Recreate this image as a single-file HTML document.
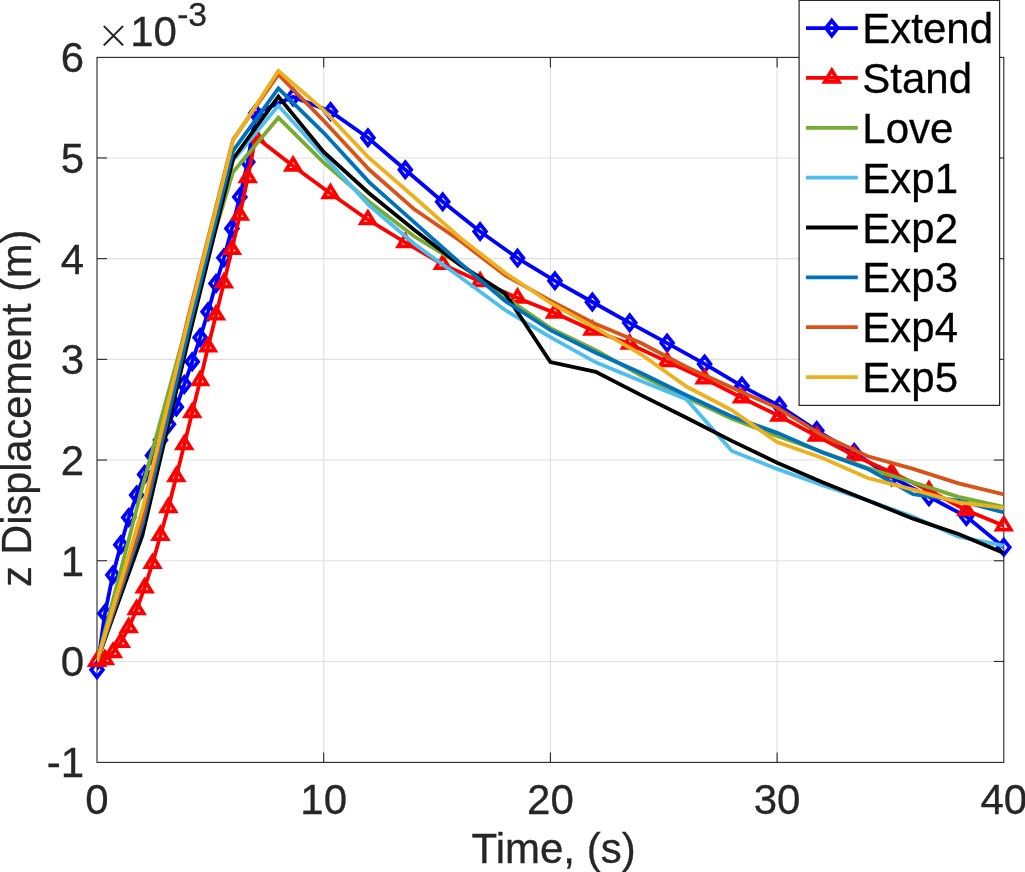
<!DOCTYPE html>
<html lang="en"><head><meta charset="utf-8"><title>z Displacement vs Time</title>
<style>html,body{margin:0;padding:0;background:#fff;}body{width:1025px;height:872px;overflow:hidden;}svg{display:block;}text{font-family:"Liberation Sans", Arial, Helvetica, sans-serif;}</style></head><body>
<svg width="1025" height="872" viewBox="0 0 1025 872">
<rect x="0" y="0" width="1025" height="872" fill="#ffffff"/>
<defs><clipPath id="ax"><rect x="97.00" y="57.40" width="906.80" height="705.00"/></clipPath></defs>
<g stroke="#e0e0e0" stroke-width="1.1" fill="none"><line x1="323.70" y1="57.40" x2="323.70" y2="762.40"/><line x1="550.40" y1="57.40" x2="550.40" y2="762.40"/><line x1="777.10" y1="57.40" x2="777.10" y2="762.40"/><line x1="97.00" y1="661.45" x2="1003.80" y2="661.45"/><line x1="97.00" y1="560.75" x2="1003.80" y2="560.75"/><line x1="97.00" y1="460.05" x2="1003.80" y2="460.05"/><line x1="97.00" y1="359.35" x2="1003.80" y2="359.35"/><line x1="97.00" y1="258.65" x2="1003.80" y2="258.65"/><line x1="97.00" y1="157.95" x2="1003.80" y2="157.95"/></g>
<g stroke="#262626" stroke-width="1.1" fill="none"><rect x="97.00" y="57.40" width="906.80" height="705.00"/><line x1="323.70" y1="762.40" x2="323.70" y2="752.40"/><line x1="323.70" y1="57.40" x2="323.70" y2="67.40"/><line x1="550.40" y1="762.40" x2="550.40" y2="752.40"/><line x1="550.40" y1="57.40" x2="550.40" y2="67.40"/><line x1="777.10" y1="762.40" x2="777.10" y2="752.40"/><line x1="777.10" y1="57.40" x2="777.10" y2="67.40"/><line x1="97.00" y1="661.45" x2="107.00" y2="661.45"/><line x1="1003.80" y1="661.45" x2="993.80" y2="661.45"/><line x1="97.00" y1="560.75" x2="107.00" y2="560.75"/><line x1="1003.80" y1="560.75" x2="993.80" y2="560.75"/><line x1="97.00" y1="460.05" x2="107.00" y2="460.05"/><line x1="1003.80" y1="460.05" x2="993.80" y2="460.05"/><line x1="97.00" y1="359.35" x2="107.00" y2="359.35"/><line x1="1003.80" y1="359.35" x2="993.80" y2="359.35"/><line x1="97.00" y1="258.65" x2="107.00" y2="258.65"/><line x1="1003.80" y1="258.65" x2="993.80" y2="258.65"/><line x1="97.00" y1="157.95" x2="107.00" y2="157.95"/><line x1="1003.80" y1="157.95" x2="993.80" y2="157.95"/></g>
<g clip-path="url(#ax)" fill="none" stroke-width="3.8" stroke-linejoin="miter" stroke-miterlimit="10">
<polyline stroke="#0000ff" points="97.00,669.70 104.93,613.40 112.87,575.00 120.80,544.70 128.74,517.50 136.67,495.00 144.61,474.50 152.54,455.60 160.48,440.00 168.41,424.30 176.34,407.00 184.28,384.40 192.21,361.75 200.15,337.50 208.08,311.75 216.02,283.60 223.95,257.80 231.89,228.50 239.82,196.90 247.76,161.90 255.69,113.20 293.10,96.90 330.50,111.50 367.91,137.70 405.31,169.70 442.72,201.80 480.12,231.60 517.53,258.10 554.93,280.80 592.34,302.00 629.75,322.80 667.15,343.10 704.56,363.90 741.96,386.10 779.37,406.00 816.77,430.60 854.18,452.50 891.58,477.00 928.99,496.80 966.39,516.60 1003.80,547.30"/>
</g>
<g fill="none" stroke="#0000ff" stroke-width="3.7" stroke-linejoin="miter" stroke-miterlimit="10">
<path d="M97.00,662.20 L102.90,669.70 L97.00,677.20 L91.10,669.70 Z M104.93,605.90 L110.83,613.40 L104.93,620.90 L99.03,613.40 Z M112.87,567.50 L118.77,575.00 L112.87,582.50 L106.97,575.00 Z M120.80,537.20 L126.70,544.70 L120.80,552.20 L114.90,544.70 Z M128.74,510.00 L134.64,517.50 L128.74,525.00 L122.84,517.50 Z M136.67,487.50 L142.57,495.00 L136.67,502.50 L130.77,495.00 Z M144.61,467.00 L150.51,474.50 L144.61,482.00 L138.71,474.50 Z M152.54,448.10 L158.44,455.60 L152.54,463.10 L146.64,455.60 Z M160.48,432.50 L166.38,440.00 L160.48,447.50 L154.58,440.00 Z M168.41,416.80 L174.31,424.30 L168.41,431.80 L162.51,424.30 Z M176.34,399.50 L182.25,407.00 L176.34,414.50 L170.44,407.00 Z M184.28,376.90 L190.18,384.40 L184.28,391.90 L178.38,384.40 Z M192.21,354.25 L198.11,361.75 L192.21,369.25 L186.31,361.75 Z M200.15,330.00 L206.05,337.50 L200.15,345.00 L194.25,337.50 Z M208.08,304.25 L213.98,311.75 L208.08,319.25 L202.18,311.75 Z M216.02,276.10 L221.92,283.60 L216.02,291.10 L210.12,283.60 Z M223.95,250.30 L229.85,257.80 L223.95,265.30 L218.05,257.80 Z M231.89,221.00 L237.79,228.50 L231.89,236.00 L225.99,228.50 Z M239.82,189.40 L245.72,196.90 L239.82,204.40 L233.92,196.90 Z M247.76,154.40 L253.66,161.90 L247.76,169.40 L241.86,161.90 Z M255.69,105.70 L261.59,113.20 L255.69,120.70 L249.79,113.20 Z M293.10,89.40 L299.00,96.90 L293.10,104.40 L287.20,96.90 Z M330.50,104.00 L336.40,111.50 L330.50,119.00 L324.60,111.50 Z M367.91,130.20 L373.81,137.70 L367.91,145.20 L362.01,137.70 Z M405.31,162.20 L411.21,169.70 L405.31,177.20 L399.41,169.70 Z M442.72,194.30 L448.62,201.80 L442.72,209.30 L436.82,201.80 Z M480.12,224.10 L486.02,231.60 L480.12,239.10 L474.22,231.60 Z M517.53,250.60 L523.43,258.10 L517.53,265.60 L511.63,258.10 Z M554.93,273.30 L560.83,280.80 L554.93,288.30 L549.03,280.80 Z M592.34,294.50 L598.24,302.00 L592.34,309.50 L586.44,302.00 Z M629.75,315.30 L635.64,322.80 L629.75,330.30 L623.85,322.80 Z M667.15,335.60 L673.05,343.10 L667.15,350.60 L661.25,343.10 Z M704.56,356.40 L710.46,363.90 L704.56,371.40 L698.66,363.90 Z M741.96,378.60 L747.86,386.10 L741.96,393.60 L736.06,386.10 Z M779.37,398.50 L785.27,406.00 L779.37,413.50 L773.47,406.00 Z M816.77,423.10 L822.67,430.60 L816.77,438.10 L810.87,430.60 Z M854.18,445.00 L860.08,452.50 L854.18,460.00 L848.28,452.50 Z M891.58,469.50 L897.48,477.00 L891.58,484.50 L885.68,477.00 Z M928.99,489.30 L934.89,496.80 L928.99,504.30 L923.09,496.80 Z M966.39,509.10 L972.29,516.60 L966.39,524.10 L960.49,516.60 Z M1003.80,539.80 L1009.70,547.30 L1003.80,554.80 L997.90,547.30 Z"/>
</g>
<g clip-path="url(#ax)" fill="none" stroke-width="3.8" stroke-linejoin="miter">
<polyline stroke="#ff0000" points="97.00,661.20 104.93,659.50 112.87,652.50 120.80,642.30 128.74,627.50 136.67,609.50 144.61,587.70 152.54,563.40 160.48,535.30 168.41,507.50 176.34,476.50 184.28,444.60 192.21,412.60 200.15,380.50 208.08,346.90 216.02,314.90 223.95,282.80 231.89,249.40 239.82,215.00 247.76,177.50 255.69,137.00 293.10,166.00 330.50,193.50 367.91,219.70 405.31,242.50 442.72,264.40 480.12,281.60 517.53,298.00 554.93,313.00 592.34,330.20 629.75,344.00 667.15,361.60 704.56,378.75 741.96,397.80 779.37,416.00 816.77,436.10 854.18,455.50 891.58,472.40 928.99,490.50 966.39,510.30 1003.80,525.70"/>
</g>
<g fill="none" stroke="#ff0000" stroke-width="3.7" stroke-linejoin="miter" stroke-miterlimit="10">
<path d="M97.00,653.55 L104.00,665.03 L90.00,665.03 Z M104.93,651.85 L111.93,663.33 L97.93,663.33 Z M112.87,644.85 L119.87,656.33 L105.87,656.33 Z M120.80,634.65 L127.80,646.12 L113.80,646.12 Z M128.74,619.85 L135.74,631.33 L121.74,631.33 Z M136.67,601.85 L143.67,613.33 L129.67,613.33 Z M144.61,580.05 L151.61,591.53 L137.61,591.53 Z M152.54,555.75 L159.54,567.23 L145.54,567.23 Z M160.48,527.65 L167.48,539.12 L153.48,539.12 Z M168.41,499.85 L175.41,511.32 L161.41,511.32 Z M176.34,468.85 L183.34,480.32 L169.34,480.32 Z M184.28,436.95 L191.28,448.43 L177.28,448.43 Z M192.21,404.95 L199.21,416.43 L185.21,416.43 Z M200.15,372.85 L207.15,384.32 L193.15,384.32 Z M208.08,339.25 L215.08,350.72 L201.08,350.72 Z M216.02,307.25 L223.02,318.72 L209.02,318.72 Z M223.95,275.15 L230.95,286.62 L216.95,286.62 Z M231.89,241.75 L238.89,253.22 L224.89,253.22 Z M239.82,207.35 L246.82,218.82 L232.82,218.82 Z M247.76,169.85 L254.76,181.32 L240.76,181.32 Z M255.69,129.35 L262.69,140.82 L248.69,140.82 Z M293.10,158.35 L300.10,169.82 L286.10,169.82 Z M330.50,185.85 L337.50,197.32 L323.50,197.32 Z M367.91,212.05 L374.91,223.52 L360.91,223.52 Z M405.31,234.85 L412.31,246.32 L398.31,246.32 Z M442.72,256.75 L449.72,268.22 L435.72,268.22 Z M480.12,273.95 L487.12,285.43 L473.12,285.43 Z M517.53,290.35 L524.53,301.82 L510.53,301.82 Z M554.93,305.35 L561.93,316.82 L547.93,316.82 Z M592.34,322.55 L599.34,334.02 L585.34,334.02 Z M629.75,336.35 L636.75,347.82 L622.75,347.82 Z M667.15,353.95 L674.15,365.43 L660.15,365.43 Z M704.56,371.10 L711.56,382.57 L697.56,382.57 Z M741.96,390.15 L748.96,401.62 L734.96,401.62 Z M779.37,408.35 L786.37,419.82 L772.37,419.82 Z M816.77,428.45 L823.77,439.93 L809.77,439.93 Z M854.18,447.85 L861.18,459.32 L847.18,459.32 Z M891.58,464.75 L898.58,476.22 L884.58,476.22 Z M928.99,482.85 L935.99,494.32 L921.99,494.32 Z M966.39,502.65 L973.39,514.12 L959.39,514.12 Z M1003.80,518.05 L1010.80,529.53 L996.80,529.53 Z"/>
</g>
<g clip-path="url(#ax)" fill="none" stroke-width="3.8" stroke-linejoin="miter" stroke-miterlimit="10">
<polyline stroke="#77ac30" points="97.00,661.45 142.34,487.24 187.68,322.09 233.02,172.05 278.36,117.67 323.70,162.48 369.04,201.75 414.38,236.50 459.72,264.19 505.06,296.92 550.40,328.13 595.74,350.29 641.08,375.46 686.42,397.62 731.76,418.76 777.10,435.88 822.44,451.99 867.78,468.11 913.12,482.41 958.46,496.91 1003.80,506.88"/>
<polyline stroke="#4dbeee" points="97.00,661.45 142.34,515.44 187.68,329.14 233.02,160.47 278.36,105.59 323.70,155.94 369.04,205.28 414.38,244.05 459.72,276.78 505.06,310.01 550.40,337.20 595.74,362.37 641.08,381.00 686.42,399.13 731.76,450.99 777.10,468.91 822.44,485.23 867.78,500.33 913.12,516.84 958.46,536.58 1003.80,545.65"/>
<polyline stroke="#000000" points="97.00,661.45 142.34,535.58 187.68,342.23 233.02,158.96 278.36,96.52 323.70,151.91 369.04,193.19 414.38,229.95 459.72,264.69 505.06,293.39 550.40,362.17 595.74,371.84 641.08,395.10 686.42,417.76 731.76,440.92 777.10,462.67 822.44,482.20 867.78,500.53 913.12,518.66 958.46,533.96 1003.80,553.00"/>
<polyline stroke="#0072bd" points="97.00,661.45 142.34,525.50 187.68,334.18 233.02,150.90 278.36,88.47 323.70,132.77 369.04,182.12 414.38,222.40 459.72,262.68 505.06,300.94 550.40,330.15 595.74,352.80 641.08,372.94 686.42,395.20 731.76,416.45 777.10,432.86 822.44,452.50 867.78,468.91 913.12,494.29 958.46,500.53 1003.80,512.41"/>
<polyline stroke="#d95319" points="97.00,661.45 142.34,518.46 187.68,319.07 233.02,139.82 278.36,74.37 323.70,120.69 369.04,169.53 414.38,209.31 459.72,240.52 505.06,275.27 550.40,300.64 595.74,324.11 641.08,343.04 686.42,367.00 731.76,387.55 777.10,407.69 822.44,435.28 867.78,456.22 913.12,468.91 958.46,483.31 1003.80,494.29"/>
<polyline stroke="#edb120" points="97.00,661.45 142.34,509.39 187.68,322.09 233.02,140.83 278.36,70.84 323.70,110.12 369.04,157.95 414.38,197.22 459.72,237.50 505.06,272.75 550.40,302.96 595.74,328.13 641.08,354.32 686.42,386.54 731.76,410.20 777.10,442.13 822.44,458.04 867.78,477.97 913.12,489.66 958.46,502.34 1003.80,507.78"/>
</g>
<g fill="#262626" stroke="#262626" stroke-width="0.3" font-size="42.0">
<text x="97.00" y="814" text-anchor="middle">0</text>
<text x="323.70" y="814" text-anchor="middle">10</text>
<text x="550.40" y="814" text-anchor="middle">20</text>
<text x="777.10" y="814" text-anchor="middle">30</text>
<text x="1003.80" y="814" text-anchor="middle">40</text>
<text x="84.2" y="777.30" text-anchor="end">-1</text>
<text x="84.2" y="676.35" text-anchor="end">0</text>
<text x="84.2" y="575.65" text-anchor="end">1</text>
<text x="84.2" y="474.95" text-anchor="end">2</text>
<text x="84.2" y="374.25" text-anchor="end">3</text>
<text x="84.2" y="273.55" text-anchor="end">4</text>
<text x="84.2" y="172.85" text-anchor="end">5</text>
<text x="84.2" y="72.30" text-anchor="end">6</text>
<text x="553.6" y="863" text-anchor="middle">Time, (s)</text>
<text transform="translate(30.5,408.3) rotate(-90)" text-anchor="middle" textLength="357.2" lengthAdjust="spacingAndGlyphs">z Displacement (m)</text>
<text x="98.3" y="53.2" font-size="52" stroke="#ffffff" stroke-width="1.6">×</text><text x="130.2" y="46.25">10</text><text x="177.2" y="26" font-size="33.6">-3</text>
</g>
<rect x="799.10" y="0.40" width="200.50" height="405.00" fill="#ffffff" stroke="#262626" stroke-width="1.2"/>
<g fill="none" stroke-width="3.8">
<line x1="806" y1="28.10" x2="857.8" y2="28.10" stroke="#0000ff"/>
<line x1="806" y1="77.95" x2="857.8" y2="77.95" stroke="#ff0000"/>
<line x1="806" y1="127.80" x2="857.8" y2="127.80" stroke="#77ac30"/>
<line x1="806" y1="177.65" x2="857.8" y2="177.65" stroke="#4dbeee"/>
<line x1="806" y1="227.50" x2="857.8" y2="227.50" stroke="#000000"/>
<line x1="806" y1="277.35" x2="857.8" y2="277.35" stroke="#0072bd"/>
<line x1="806" y1="327.20" x2="857.8" y2="327.20" stroke="#d95319"/>
<line x1="806" y1="377.05" x2="857.8" y2="377.05" stroke="#edb120"/>
<path d="M831.80,20.60 L837.70,28.10 L831.80,35.60 L825.90,28.10 Z" stroke="#0000ff" stroke-miterlimit="10"/>
<path d="M831.80,70.30 L838.80,81.78 L824.80,81.78 Z" stroke="#ff0000" stroke-miterlimit="10"/>
</g>
<g fill="#000000" stroke="#000000" stroke-width="0.3" font-size="42.0">
<text x="862.3" y="43.10">Extend</text>
<text x="862.3" y="92.95">Stand</text>
<text x="862.3" y="142.80">Love</text>
<text x="862.3" y="192.65">Exp1</text>
<text x="862.3" y="242.50">Exp2</text>
<text x="862.3" y="292.35">Exp3</text>
<text x="862.3" y="342.20">Exp4</text>
<text x="862.3" y="392.05">Exp5</text>
</g>
</svg></body></html>
